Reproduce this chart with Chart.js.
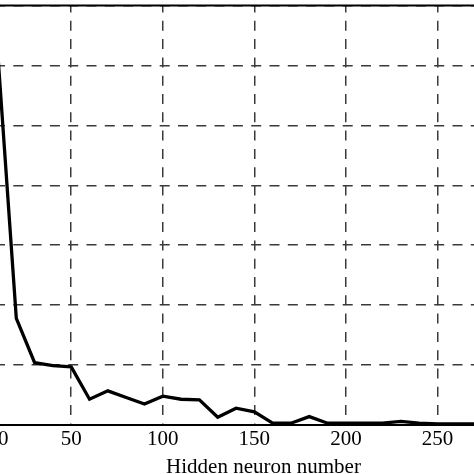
<!DOCTYPE html>
<html>
<head>
<meta charset="utf-8">
<script src="https://cdn.jsdelivr.net/npm/chart.js@4.4.1/dist/chart.umd.min.js"></script>
<style>
  html, body { margin: 0; padding: 0; width: 474px; height: 474px; overflow: hidden; background: #fff; }
  #wrap { position: absolute; left: -40px; top: 0; width: 600px; height: 490px; }
</style>
</head>
<body>
<div id="wrap"><canvas id="c" width="600" height="490"></canvas></div>
<script>
const hiddenNeurons = [10, 20, 30, 40, 50, 60, 70, 80, 90, 100, 110, 120, 130, 140, 150, 160, 170, 180, 190, 200, 210, 220, 230, 240, 250, 260, 270, 280, 290, 300];
const errorValues = [6.15, 1.78, 1.04, 0.99, 0.97, 0.43, 0.57, 0.46, 0.35, 0.48, 0.43, 0.42, 0.13, 0.28, 0.22, 0.03, 0.03, 0.14, 0.03, 0.03, 0.03, 0.03, 0.06, 0.03, 0.02, 0.02, 0.02, 0.02, 0.02, 0.02];
const xTickValues = [10, 50, 100, 150, 200, 250, 300];
const xTitle = 'Hidden neuron number';

const points = hiddenNeurons.map((x, i) => ({ x: x, y: errorValues[i] }));

const topFrame = {
  id: 'topFrame',
  afterDraw(chart) {
    const a = chart.chartArea, ctx = chart.ctx;
    ctx.save();
    ctx.strokeStyle = '#000';
    ctx.lineWidth = 2;
    ctx.setLineDash([]);
    ctx.beginPath();
    ctx.moveTo(a.left, a.top);
    ctx.lineTo(a.right, a.top);
    ctx.moveTo(a.right, a.top);
    ctx.lineTo(a.right, a.bottom);
    ctx.stroke();
    ctx.restore();
  }
};

new Chart(document.getElementById('c'), {
  type: 'line',
  data: {
    datasets: [{
      data: points,
      borderColor: '#000',
      borderWidth: 3.3,
      pointRadius: 0,
      tension: 0,
      fill: false,
      borderJoinStyle: 'miter'
    }]
  },
  options: {
    responsive: false,
    animation: false,
    devicePixelRatio: 1,
    layout: { autoPadding: false, padding: { left: 38, right: 31, top: 5.5, bottom: 10 } },
    plugins: { legend: { display: false }, tooltip: { enabled: false } },
    scales: {
      x: {
        type: 'linear',
        min: 10,
        max: 300,
        afterBuildTicks(axis) { axis.ticks = xTickValues.map(v => ({ value: v })); },
        afterFit(axis) { axis.height = 55; },
        grid: { color: '#3a3a3a', lineWidth: 1.5, drawTicks: false },
        border: { display: true, color: '#000', width: 2, dash: [10, 8.3], dashOffset: 3 },
        ticks: {
          padding: 2,
          color: '#000',
          maxRotation: 0,
          font: { family: '"Liberation Serif", "Times New Roman", serif', size: 21 }
        },
        title: {
          display: true,
          text: xTitle,
          color: '#000',
          padding: 0,
          font: { family: '"Liberation Serif", "Times New Roman", serif', size: 21 }
        }
      },
      y: {
        type: 'linear',
        min: 0,
        max: 7,
        afterFit(axis) { axis.width = 0; },
        ticks: { display: false, stepSize: 1 },
        grid: { color: '#3a3a3a', lineWidth: 1.5, drawTicks: false },
        border: { display: false, dash: [10, 8.3], dashOffset: 3 }
      }
    }
  },
  plugins: [topFrame]
});
</script>
</body>
</html>
